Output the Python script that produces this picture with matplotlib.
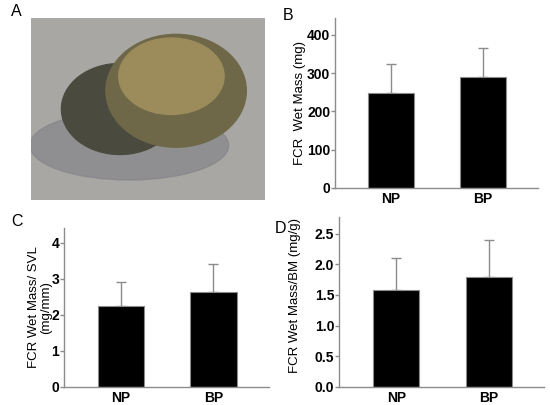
import matplotlib
matplotlib.use("Agg")
import matplotlib.pyplot as plt
from matplotlib.patches import Ellipse, Rectangle

plt.rcParams['font.family'] = ['Liberation Sans', 'DejaVu Sans']

# data (mean and upper SD)
groups = ["NP", "BP"]
wet_mass = [249, 289]
wet_mass_sd = [76, 76]
mass_svl = [2.24, 2.63]
mass_svl_sd = [0.68, 0.77]
mass_bm = [1.58, 1.80]
mass_bm_sd = [0.52, 0.60]

gray = "#8c8c8c"


def bar_panel(ax, means, sds, ylim, yticks, yticklabels, ylabel, xlim, labx, laby=0.5):
    x = range(len(groups))
    ax.bar(x, means, width=0.5, color="black", edgecolor=gray, linewidth=0.8, zorder=2)
    ax.errorbar(x, means, yerr=[[0] * len(sds), sds], fmt="none", ecolor=gray,
                elinewidth=1, capsize=3.5, capthick=1, zorder=1)
    ax.set_xlim(*xlim)
    ax.set_ylim(*ylim)
    ax.set_yticks(yticks)
    ax.set_yticklabels(yticklabels, fontsize=10, fontweight="bold")
    ax.set_xticks(list(x))
    ax.set_xticklabels(groups, fontsize=10, fontweight="bold")
    ax.tick_params(axis="x", length=0, pad=3)
    ax.tick_params(axis="y", length=3, width=1, color=gray, pad=0.5)
    for s in ["top", "right"]:
        ax.spines[s].set_visible(False)
    for s in ["left", "bottom"]:
        ax.spines[s].set_color(gray)
        ax.spines[s].set_linewidth(1)
    ax.set_ylabel(ylabel, fontsize=9.5, linespacing=1.05)
    ax.yaxis.set_label_coords(labx, laby)


fig = plt.figure(figsize=(5.5, 4.05), dpi=100)

# panel A: photograph placeholder
axA = fig.add_axes([31 / 550, 1 - 200 / 405, 234 / 550, 182 / 405])
axA.set_xlim(0, 1)
axA.set_ylim(0, 1)
axA.add_patch(Rectangle((0, 0), 1, 1, color="#a9a7a3"))
axA.add_patch(Ellipse((0.42, 0.3), 0.85, 0.38, color="#85858a", alpha=0.7))
axA.add_patch(Ellipse((0.38, 0.5), 0.5, 0.5, color="#4b4a3e"))
axA.add_patch(Ellipse((0.62, 0.6), 0.6, 0.62, color="#6f6848"))
axA.add_patch(Ellipse((0.6, 0.68), 0.45, 0.42, color="#9c8c5c"))
axA.set_axis_off()

axB = fig.add_axes([335 / 550, 1 - 188 / 405, 203 / 550, 170 / 405])
bar_panel(axB, wet_mass, wet_mass_sd, (0, 444), [0, 100, 200, 300, 400],
          ["0", "100", "200", "300", "400"], "FCR  Wet Mass (mg)", (-0.609, 1.598), -0.145)

axC = fig.add_axes([64 / 550, 1 - 386.7 / 405, 205 / 550, 158.4 / 405])
bar_panel(axC, mass_svl, mass_svl_sd, (0, 4.4), [0, 1, 2, 3, 4],
          ["0", "1", "2", "3", "4"], "FCR Wet Mass/ SVL\n(mg/mm)", (-0.616, 1.6), -0.058)

axD = fig.add_axes([339 / 550, 1 - 387 / 405, 205 / 550, 170 / 405])
bar_panel(axD, mass_bm, mass_bm_sd, (0, 2.77), [0, 0.5, 1.0, 1.5, 2.0, 2.5],
          ["0.0", "0.5", "1.0", "1.5", "2.0", "2.5"], "FCR Wet Mass/BM (mg/g)", (-0.62, 1.6),
          -0.185, 0.54)

fig.text(16 / 550, 1 - 12 / 405, "A", fontsize=11.5, ha="center", va="center")
fig.text(288 / 550, 1 - 15 / 405, "B", fontsize=11.5, ha="center", va="center")
fig.text(17 / 550, 1 - 222 / 405, "C", fontsize=11.5, ha="center", va="center")
fig.text(281 / 550, 1 - 228 / 405, "D", fontsize=11.5, ha="center", va="center")

fig.savefig("out.png", dpi=100)
